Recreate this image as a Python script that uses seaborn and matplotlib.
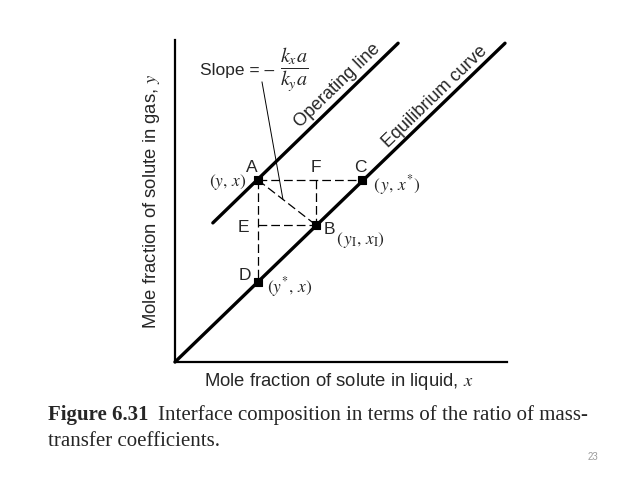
import matplotlib
matplotlib.use("Agg")
import matplotlib.pyplot as plt
import pandas as pd
import seaborn as sns

# lines, in axis units (0..1 on both axes)
eq_x = [0.0, 0.994]
eq_y = [0.0, 0.990]
op_x = [0.114, 0.672]
op_y = [0.432, 0.990]

# marked points A, B, C, D
pt_names = ["A", "B", "C", "D"]
pt_x = [0.250, 0.425, 0.563, 0.250]
pt_y = [0.565, 0.425, 0.565, 0.250]

# dashed construction lines: A-C, A-D, A-B, E-B, F-B
dash_x = [[0.250, 0.563], [0.250, 0.250], [0.250, 0.425], [0.250, 0.425], [0.425, 0.425]]
dash_y = [[0.565, 0.565], [0.565, 0.250], [0.565, 0.425], [0.425, 0.425], [0.565, 0.425]]

# thin pointer from the slope label to line AB
ptr_x = [0.262, 0.325]
ptr_y = [0.870, 0.506]

sns.set_style("white")
plt.rcParams["font.family"] = ["Liberation Sans", "DejaVu Sans"]
plt.rcParams["mathtext.fontset"] = "stix"

W, H = 638, 478
fig = plt.figure(figsize=(W / 100, H / 100), dpi=100)
ax = fig.add_axes([175 / W, 1 - 362 / H, 332 / W, 322 / H])

sns.lineplot(x=eq_x, y=eq_y, ax=ax, color="black", lw=2.4, estimator=None, sort=False, clip_on=False)
sns.lineplot(x=op_x, y=op_y, ax=ax, color="black", lw=2.4, estimator=None, sort=False, clip_on=False)
for xs, ys in zip(dash_x, dash_y):
    sns.lineplot(x=xs, y=ys, ax=ax, color="black", lw=0.9, estimator=None, sort=False,
                 linestyle=(0, (7, 3.2)))
sns.lineplot(x=ptr_x, y=ptr_y, ax=ax, color="black", lw=0.7, estimator=None, sort=False)

pts = pd.DataFrame({"x": pt_x, "y": pt_y, "name": pt_names})
sns.scatterplot(data=pts, x="x", y="y", ax=ax, color="black", marker="s", s=38,
                edgecolor="black", linewidth=0.8, zorder=5)

ax.set_xlim(0, 1)
ax.set_ylim(0, 1)
ax.set_xticks([])
ax.set_yticks([])
ax.set_xlabel("")
ax.set_ylabel("")
for side in ["top", "right"]:
    ax.spines[side].set_visible(False)
for side in ["left", "bottom"]:
    ax.spines[side].set_color("black")
    ax.spines[side].set_linewidth(1.6)


def px(x, y):
    return (x - 175) / 332, (362 - y) / 322


lab = dict(fontsize=12.5, ha="center", va="center")
for name, (x, y) in {"A": (252, 167), "F": (316, 167), "C": (360, 167),
                     "E": (243, 227), "B": (329, 230), "D": (245, 276)}.items():
    ax.text(*px(x, y), name, **lab)

mt = dict(fontsize=12.5, va="center")
ax.text(*px(246, 182), r"$(y,\,x)$", ha="right", **mt)
ax.text(*px(373, 185), r"$(\,y,\,x^{*})$", ha="left", **mt)
ax.text(*px(336, 240), r"$(\,y_{\rm I},\,x_{\rm I})$", ha="left", **mt)
ax.text(*px(267, 287), r"$(y^{*},\,x)$", ha="left", **mt)

ax.text(*px(200, 70), "Slope = \u2013", ha="left", va="center", fontsize=12.5)
ax.text(*px(294, 70), r"$\dfrac{k_x a}{k_y a}$", ha="center", va="center", fontsize=14.5)

ax.text(*px(337, 86), "Operating line", rotation=44.2, rotation_mode="anchor",
        ha="center", va="center", fontsize=13)
ax.text(*px(435, 97), "Equilibrium curve", rotation=44, rotation_mode="anchor",
        ha="center", va="center", fontsize=13)

fig.text(151 / W, 1 - 201 / H, r"Mole fraction of solute in gas, $y$", rotation=90,
         ha="center", va="center", fontsize=13.3)
fig.text(339 / W, 1 - 382 / H, r"Mole fraction of solute in liquid, $x$",
         ha="center", va="center", fontsize=13.3)

cap = dict(family=["Liberation Serif", "DejaVu Serif"], fontsize=15, va="center")
fig.text(48 / W, 1 - 415 / H, "Figure 6.31", fontweight="bold", ha="left", **cap)
fig.text(158 / W, 1 - 415 / H, "Interface composition in terms of the ratio of mass-",
         ha="left", **cap)
fig.text(48 / W, 1 - 441 / H, "transfer coefficients.", ha="left", **cap)
fig.text(593 / W, 1 - 457 / H, "23", ha="center", va="center", fontsize=7, color="#9a9a9a")

fig.savefig("out.png", dpi=100)
